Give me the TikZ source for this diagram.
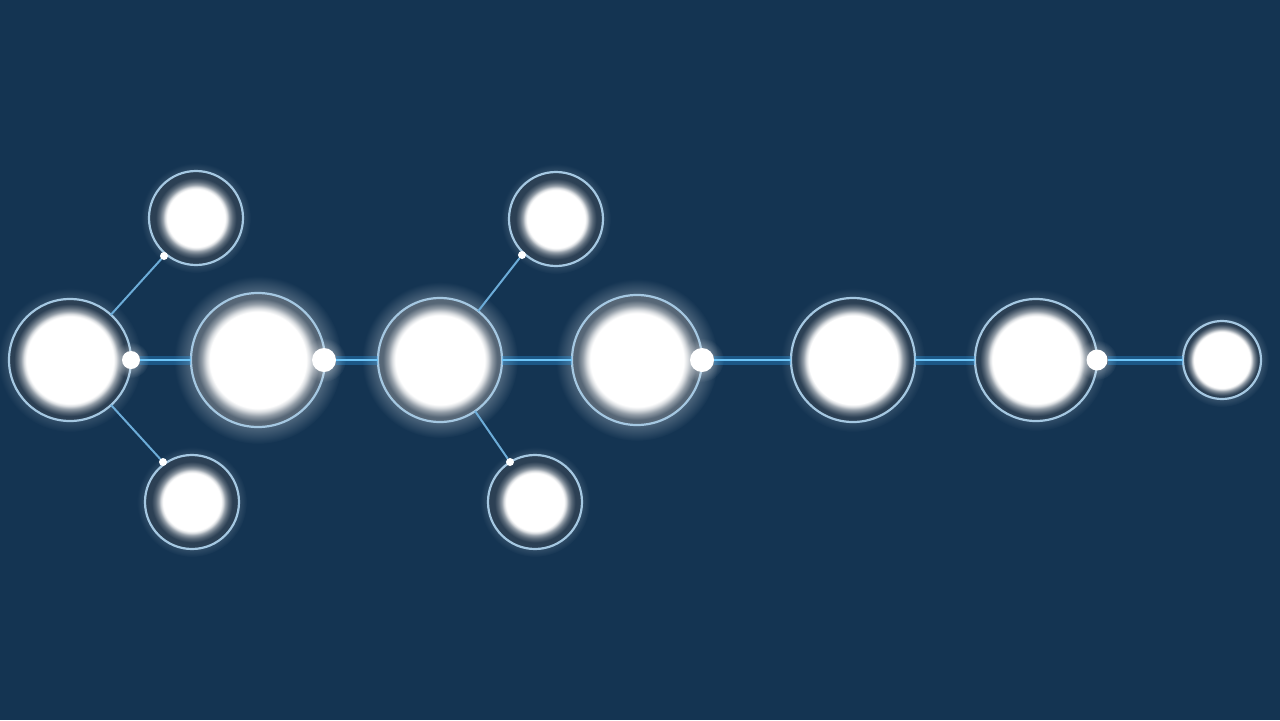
\documentclass[tikz,border=0pt]{standalone}
\usetikzlibrary{fadings}
\newdimen\px \px=0.02cm
\definecolor{bgc}{RGB}{20,52,82}
\definecolor{ringc}{RGB}{165,200,226}
\definecolor{darkc}{RGB}{44,64,84}
\definecolor{linec}{RGB}{45,155,232}
\definecolor{linecore}{RGB}{110,198,248}
\definecolor{branchc}{RGB}{108,172,216}
\colorlet{gA}{white!82!darkc}
\colorlet{gB}{white!48!darkc}
\colorlet{gC}{white!20!darkc}
\colorlet{haloB}{white!24!bgc}
\colorlet{haloS}{white!12!bgc}
\pgfdeclareradialshading{orbbig}{\pgfpointorigin}{color(0bp)=(white); color(17.9bp)=(white); color(18.9bp)=(gA); color(20.1bp)=(gB); color(21.6bp)=(gC); color(23bp)=(darkc); color(50bp)=(darkc)}
\pgfdeclareradialshading{orbbright}{\pgfpointorigin}{color(0bp)=(white); color(18bp)=(white); color(19.3bp)=(gA); color(21bp)=(gB); color(23bp)=(gC); color(25bp)=(gC); color(50bp)=(gC)}
\pgfdeclareradialshading{orbsmall}{\pgfpointorigin}{color(0bp)=(white); color(15.4bp)=(white); color(16.5bp)=(gA); color(17.8bp)=(gB); color(19.5bp)=(gC); color(21.5bp)=(darkc); color(50bp)=(darkc)}
\pgfdeclareradialshading{halobright}{\pgfpointorigin}{color(0bp)=(haloB); color(20bp)=(haloB); color(25bp)=(bgc); color(50bp)=(bgc)}
\pgfdeclareradialshading{halosoft}{\pgfpointorigin}{color(0bp)=(haloS); color(21.5bp)=(haloS); color(25bp)=(bgc); color(50bp)=(bgc)}
\tikzfading[name=softglow, inner color=transparent!0, outer color=transparent!100]
\begin{document}
\begin{tikzpicture}[x=\px,y=-\px,
  orb/.style={circle, inner sep=0pt, outer sep=0pt, shade, shading=orbbig, draw=ringc, line width=2.2\px},
  orbhot/.style={orb, shading=orbbright},
  orbkid/.style={orb, shading=orbsmall},
  joint/.style={circle, inner sep=0pt, outer sep=0pt, fill=white},
  mainlink/.style={draw=linecore, line width=2.6\px},
  mainglow/.style={draw=linec, line width=9\px, opacity=.35},
  branchlink/.style={draw=branchc, line width=2\px},
  dotglow/.style={fill=white, opacity=.55, path fading=softglow},
  hot/.style={shade, shading=halobright},
  soft/.style={shade, shading=halosoft}]
\fill[bgc] (0,0) rectangle (1280,720);
\useasboundingbox (0,0) rectangle (1280,720);
% halos
\path[soft] (70,360) circle[radius=72\px];
\path[hot] (258,360) circle[radius=84\px];
\path[hot] (440,360) circle[radius=78\px];
\path[hot] (637,360) circle[radius=81\px];
\path[soft] (853,360) circle[radius=72\px];
\path[soft] (1036,360) circle[radius=71\px];
\path[soft] (1222,360) circle[radius=47\px];
\path[soft] (196,218) circle[radius=55\px];
\path[soft] (192,502) circle[radius=55\px];
\path[soft] (556,219) circle[radius=55\px];
\path[soft] (535,502) circle[radius=55\px];
% main nodes
\node[orb, minimum size=122\px] (A) at (70,360) {};
\node[orbhot, minimum size=134\px] (B) at (258,360) {};
\node[orbhot, minimum size=124\px] (C) at (440,360) {};
\node[orbhot, minimum size=130\px] (D) at (637,360) {};
\node[orb, minimum size=124\px] (E) at (853,360) {};
\node[orb, minimum size=122\px] (F) at (1036,360) {};
\node[orb, minimum size=78\px] (G) at (1222,360) {};
% child nodes
\node[orbkid, minimum size=94\px] (A1) at (196,218) {};
\node[orbkid, minimum size=94\px] (A2) at (192,502) {};
\node[orbkid, minimum size=94\px] (C1) at (556,219) {};
\node[orbkid, minimum size=94\px] (C2) at (535,502) {};
% joint glows
\fill[dotglow] (131,360) circle[radius=18\px];
\fill[dotglow] (324,360) circle[radius=22\px];
\fill[dotglow] (702,360) circle[radius=22\px];
\fill[dotglow] (1097,360) circle[radius=20\px];
% joints
\node[joint, minimum size=18\px] (Aj) at (131,360) {};
\node[joint, minimum size=24\px] (Bj) at (324,360) {};
\node[joint, minimum size=24\px] (Dj) at (702,360) {};
\node[joint, minimum size=21\px] (Fj) at (1097,360) {};
\node[joint, minimum size=8\px] (A1j) at (164,256) {};
\node[joint, minimum size=8\px] (A2j) at (163,462) {};
\node[joint, minimum size=8\px] (C1j) at (522,255) {};
\node[joint, minimum size=8\px] (C2j) at (510,462) {};
% main line
\foreach \u/\v in {Aj/B, Bj/C, C/D, Dj/E, E/F, Fj/G}{
  \path[mainglow] (\u) -- (\v);
  \path[mainlink] (\u) -- (\v);
}
% branches
\path[branchlink] (A) -- (A1j);
\path[branchlink] (A) -- (A2j);
\path[branchlink] (C) -- (C1j);
\path[branchlink] (C) -- (C2j);
\end{tikzpicture}
\end{document}
